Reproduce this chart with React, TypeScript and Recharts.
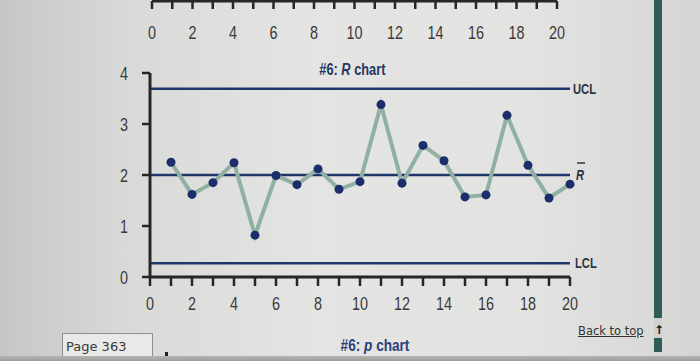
import React from "react";
import { LineChart, Line, XAxis, YAxis, ReferenceLine } from "recharts";

// Sample numbers and their ranges (R chart, #6)
const samples = [1, 2, 3, 4, 5, 6, 7, 8, 9, 10, 11, 12, 13, 14, 15, 16, 17, 18, 19, 20];
const ranges = [2.25, 1.62, 1.85, 2.24, 0.82, 1.99, 1.81, 2.12, 1.72, 1.87, 3.38, 1.84, 2.58, 2.28, 1.57, 1.61, 3.17, 2.19, 1.55, 1.82];

// Control limits
const UCL = 3.69;
const RBAR = 2.0;
const LCL = 0.27;

const xTicks = [0, 1, 2, 3, 4, 5, 6, 7, 8, 9, 10, 11, 12, 13, 14, 15, 16, 17, 18, 19, 20];
const yTicks = [0, 1, 2, 3, 4];

const data = samples.map((s, i) => ({ x: s, r: ranges[i] }));
const axisOnly = xTicks.map((t) => ({ x: t }));

const SANS = "'Liberation Sans', Arial, sans-serif";
const SQUEEZE = 0.8; // horizontal squeeze for a condensed look
const INK = "#262626";
const NAVY = "#1f356c";

const EvenTick = (props: any) => {
  const { x, y, payload, dy } = props;
  if (payload.value % 2 !== 0) return <g />;
  return (
    <text
      transform={`translate(${x},${y}) scale(${SQUEEZE},1)`}
      dy={dy}
      textAnchor="middle"
      fill="#3a3a3a"
      fontSize={18}
      fontFamily={SANS}
    >
      {payload.value}
    </text>
  );
};

const LeftTick = (props: any) => {
  const { x, y, payload } = props;
  return (
    <text
      transform={`translate(${x},${y}) scale(${SQUEEZE},1)`}
      dy={6.5}
      textAnchor="end"
      fill="#3a3a3a"
      fontSize={18}
      fontFamily={SANS}
    >
      {payload.value}
    </text>
  );
};

const LimitLabel = (props: any) => {
  const { viewBox, text, dx = 4, bar = false, italic = false } = props;
  const x = viewBox.x + viewBox.width + dx;
  const y = viewBox.y;
  return (
    <g>
      {bar && <line x1={x + 1} x2={x + 9} y1={y - 12} y2={y - 12} stroke="#2a3346" strokeWidth={1.5} />}
      <text
        transform={`translate(${x},${y + 5}) scale(${SQUEEZE},1)`}
        fill="#2a3346"
        fontSize={14}
        fontWeight="bold"
        fontStyle={italic ? "italic" : "normal"}
        fontFamily={SANS}
      >
        {text}
      </text>
    </g>
  );
};

const squeezed: React.CSSProperties = {
  display: "inline-block",
  transform: `scaleX(${SQUEEZE})`,
  transformOrigin: "center",
  whiteSpace: "nowrap",
};

export default function App() {
  return (
    <div
      style={{
        position: "absolute",
        left: 0,
        top: 0,
        width: 700,
        height: 361,
        overflow: "hidden",
        background: "linear-gradient(90deg, #c6c7c5 0%, #d9dad8 18%, #e4e4e2 45%, #e3e4e2 75%, #dadbd9 92%, #d4d5d3 100%)",
      }}
    >
      {/* bottom axis of the preceding chart */}
      <div style={{ position: "absolute", left: 0, top: 0 }}>
        <LineChart width={700} height={45} data={axisOnly} margin={{ top: 0, right: 143, bottom: 0, left: 152 }}>
          <XAxis
            dataKey="x"
            type="number"
            domain={[0, 20]}
            ticks={xTicks}
            interval={0}
            height={44}
            tickSize={8}
            tickMargin={2}
            axisLine={{ stroke: INK, strokeWidth: 3 }}
            tickLine={{ stroke: INK, strokeWidth: 2.5 }}
            tick={<EvenTick dy={28} />}
          />
          <YAxis hide domain={[0, 1]} />
          <Line dataKey="x" stroke="none" dot={false} isAnimationActive={false} />
        </LineChart>
      </div>

      <div style={{ position: "absolute", left: 0, top: 0 }}>
        <LineChart width={700} height={361} data={data} margin={{ top: 73, right: 130, bottom: 0, left: 0 }}>
          <XAxis
            dataKey="x"
            type="number"
            domain={[0, 20]}
            ticks={xTicks}
            interval={0}
            height={84}
            tickSize={9}
            tickMargin={2}
            axisLine={{ stroke: INK, strokeWidth: 3 }}
            tickLine={{ stroke: INK, strokeWidth: 2.5 }}
            tick={<EvenTick dy={22} />}
          />
          <YAxis
            type="number"
            domain={[0, 4]}
            ticks={yTicks}
            interval={0}
            width={150}
            tickSize={8}
            tickMargin={14}
            axisLine={{ stroke: INK, strokeWidth: 3 }}
            tickLine={{ stroke: INK, strokeWidth: 2.5 }}
            tick={<LeftTick />}
          />
          <ReferenceLine y={UCL} stroke={NAVY} strokeWidth={2.5} label={<LimitLabel text="UCL" dx={3} />} />
          <ReferenceLine y={RBAR} stroke={NAVY} strokeWidth={2.5} label={<LimitLabel text="R" dx={6} bar italic />} />
          <ReferenceLine y={LCL} stroke={NAVY} strokeWidth={2.5} label={<LimitLabel text="LCL" dx={5} />} />
          <Line
            dataKey="r"
            stroke="#8fb0a3"
            strokeWidth={4}
            dot={{ r: 4.5, fill: "#1b2d6b", stroke: "none" }}
            isAnimationActive={false}
          />
        </LineChart>
      </div>

      {/* chart title */}
      <div
        style={{
          position: "absolute",
          left: 292,
          top: 60,
          width: 120,
          textAlign: "center",
          fontFamily: SANS,
          fontWeight: "bold",
          fontSize: 16,
          color: "#25365f",
          lineHeight: "20px",
        }}
      >
        <span style={squeezed}>
          #6: <i>R</i> chart
        </span>
      </div>

      {/* page furniture */}
      <div style={{ position: "absolute", left: 654, top: 0, width: 8, height: 318, background: "#2f5b56" }} />
      <div style={{ position: "absolute", left: 654, top: 318, width: 8, height: 20, background: "#cfd1cf" }} />
      <div style={{ position: "absolute", left: 654, top: 338, width: 8, height: 14, background: "#2f5b56" }} />
      <div
        style={{
          position: "absolute",
          left: 62,
          top: 333,
          width: 91,
          height: 25,
          border: "1px solid #8e8e8e",
          background: "#e9e9e7",
          fontFamily: "'DejaVu Sans', Verdana, sans-serif",
          fontSize: 13,
          color: "#3a3a3a",
          lineHeight: "25px",
          paddingLeft: 3,
          boxSizing: "border-box",
        }}
      >
        Page 363
      </div>
      <div style={{ position: "absolute", left: 165, top: 352, width: 3, height: 9, background: "#222" }} />
      <div
        style={{
          position: "absolute",
          left: 300,
          top: 336,
          width: 150,
          textAlign: "center",
          fontFamily: SANS,
          fontWeight: "bold",
          fontSize: 17,
          color: "#2b3f7a",
          lineHeight: "20px",
        }}
      >
        <span style={squeezed}>
          #6: <i>p</i> chart
        </span>
      </div>
      <div
        style={{
          position: "absolute",
          left: 578,
          top: 323,
          fontFamily: "'DejaVu Sans', Verdana, sans-serif",
          fontSize: 11.5,
          color: "#333",
          lineHeight: "16px",
          whiteSpace: "nowrap",
          textDecoration: "underline",
        }}
      >
        Back to top
      </div>
      <div
        style={{
          position: "absolute",
          left: 654,
          top: 322,
          fontFamily: "'DejaVu Sans', Verdana, sans-serif",
          fontSize: 12,
          fontWeight: "bold",
          color: "#1a1a1a",
          lineHeight: "16px",
        }}
      >
        ↑
      </div>
      <div style={{ position: "absolute", left: 0, top: 356, width: 700, height: 5, background: "linear-gradient(180deg, #b5b5b3, #9c9c9a)" }} />
    </div>
  );
}
